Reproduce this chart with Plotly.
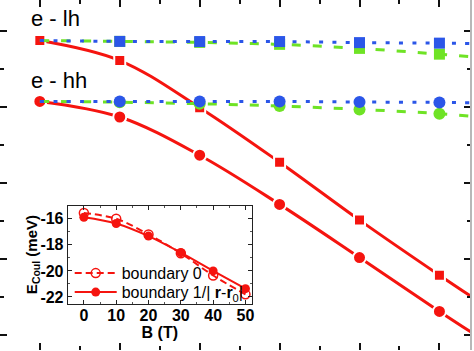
import plotly.graph_objects as go

# ---------------- data ----------------
B = [0, 10, 20, 30, 40, 50]                 # markers (T)
B_mk = [10, 20, 30, 40, 50]                 # blue/green markers
B_fit = [0, 10, 20, 30, 40, 50, 54]         # fitted curves (extend to edge)

red_lh = [-1.27, -3.90, -10.10, -17.28, -24.90, -32.15]
red_lh_fit = [-1.27, -3.90, -10.10, -17.28, -24.90, -32.15, -34.97]
red_hh = [-9.28, -11.33, -16.36, -22.83, -29.83, -36.92]
red_hh_fit = [-9.28, -11.33, -16.36, -22.83, -29.83, -36.92, -39.67]

blue_lh = [-1.38, -1.40, -1.40, -1.54, -1.61]
blue_lh_fit = [-1.27, -1.38, -1.40, -1.40, -1.54, -1.61, -1.67]
green_lh = [-1.38, -1.51, -1.77, -2.30, -3.06]
green_lh_fit = [-1.27, -1.38, -1.51, -1.77, -2.30, -3.06, -3.41]

blue_hh = [-9.28, -9.28, -9.28, -9.36, -9.41]
blue_hh_fit = [-9.28, -9.28, -9.28, -9.28, -9.36, -9.41, -9.45]
green_hh = [-9.38, -9.58, -9.88, -10.33, -10.89]
green_hh_fit = [-9.28, -9.38, -9.58, -9.88, -10.33, -10.89, -11.25]

# inset
B_in = [0, 10, 20, 30, 40, 50]
ecoul_b0 = [-15.55, -16.0, -17.2, -18.65, -20.35, -21.8]
ecoul_b1 = [-15.88, -16.36, -17.33, -18.6, -20.0, -21.36]
inset_yticks = [-16, -18, -20, -22]
inset_yticktext = ["-16", "-18", "-20", "-22"]
inset_xticks = [0, 10, 20, 30, 40, 50]

RED = "#f5140f"
BLUE = "#2b56e8"
GREEN = "#6fe325"
W, H = 474, 351

fig = go.Figure()

# fitted curves
fig.add_trace(go.Scatter(x=B_fit, y=red_lh_fit, mode="lines", line=dict(color=RED, width=3, shape="spline"), showlegend=False))
fig.add_trace(go.Scatter(x=B_fit, y=red_hh_fit, mode="lines", line=dict(color=RED, width=3, shape="spline"), showlegend=False))
fig.add_trace(go.Scatter(x=B, y=red_lh, mode="markers", marker=dict(symbol="square", size=11, color=RED, line=dict(color="white", width=2)), showlegend=False))
fig.add_trace(go.Scatter(x=B, y=red_hh, mode="markers", marker=dict(symbol="circle", size=13, color=RED, line=dict(color="white", width=2)), showlegend=False))

fig.add_trace(go.Scatter(x=B_fit, y=green_lh_fit, mode="lines", line=dict(color=GREEN, width=3, shape="spline", dash="9px,12px"), showlegend=False))
fig.add_trace(go.Scatter(x=B_fit, y=green_hh_fit, mode="lines", line=dict(color=GREEN, width=3, shape="spline", dash="9px,12px"), showlegend=False))
fig.add_trace(go.Scatter(x=B_mk, y=green_lh, mode="markers", marker=dict(symbol="square", size=11, color=GREEN), showlegend=False))
fig.add_trace(go.Scatter(x=B_mk, y=green_hh, mode="markers", marker=dict(symbol="circle", size=12, color=GREEN), showlegend=False))

fig.add_trace(go.Scatter(x=B_fit, y=blue_lh_fit, mode="lines", line=dict(color=BLUE, width=3, shape="spline", dash="4px,9.3px"), showlegend=False))
fig.add_trace(go.Scatter(x=B_fit, y=blue_hh_fit, mode="lines", line=dict(color=BLUE, width=3, shape="spline", dash="4px,9.3px"), showlegend=False))
fig.add_trace(go.Scatter(x=B_mk, y=blue_lh, mode="markers", marker=dict(symbol="square", size=11, color=BLUE), showlegend=False))
fig.add_trace(go.Scatter(x=B_mk, y=blue_hh, mode="markers", marker=dict(symbol="circle", size=12, color=BLUE), showlegend=False))

# inset traces
fig.add_trace(go.Scatter(x=B_in, y=ecoul_b0, mode="lines+markers", name="boundary 0",
                         xaxis="x2", yaxis="y2", legend="legend",
                         line=dict(color=RED, width=2, dash="7px,4px", shape="spline"),
                         marker=dict(symbol="circle-open", size=9, color=RED, line=dict(width=1.5))))
fig.add_trace(go.Scatter(x=B_in, y=ecoul_b1, mode="lines+markers",
                         name="boundary 1/| <b>r</b>-<b>r</b><sub>0</sub>|",
                         xaxis="x2", yaxis="y2", legend="legend2",
                         line=dict(color=RED, width=2, shape="spline"),
                         marker=dict(symbol="circle", size=9, color=RED)))

plot_w = W - 1
x_lo = -40 / 8.026
x_hi = x_lo + plot_w / 8.026
y_hi = 31 / 7.62
y_lo = y_hi - H / 7.62

legfont = dict(family="Liberation Sans", size=16, color="black")
tickfont_b = dict(family="Liberation Sans", size=16, color="black", weight="bold")

fig.update_layout(
    width=W, height=H,
    margin=dict(l=0, r=1, t=0, b=0, pad=0),
    paper_bgcolor="white", plot_bgcolor="white",
    font=dict(family="Liberation Sans", color="black"),
    xaxis=dict(range=[x_lo, x_hi], showgrid=False, zeroline=False, showline=False,
               ticks="inside", ticklen=7, tickwidth=1.5, tickcolor="#111",
               tick0=0, dtick=10, showticklabels=False, mirror="ticks",
               minor=dict(ticks="inside", ticklen=4, tickwidth=1.5, tickcolor="#111", dtick=5, tick0=0, showgrid=False)),
    yaxis=dict(range=[y_lo, y_hi], showgrid=False, zeroline=False, showline=False,
               ticks="inside", ticklen=7, tickwidth=1.5, tickcolor="#111",
               tick0=0, dtick=10, showticklabels=False, mirror="ticks",
               minor=dict(ticks="inside", ticklen=4, tickwidth=1.5, tickcolor="#111", dtick=5, tick0=0, showgrid=False)),
    xaxis2=dict(domain=[68 / plot_w, 253 / plot_w], anchor="y2", range=[-5, 52],
                showgrid=False, zeroline=False, showline=True, linecolor="#222", linewidth=1,
                mirror="allticks", ticks="inside", ticklen=4, tickcolor="#222",
                tickvals=inset_xticks, tickfont=tickfont_b, ticklabelstandoff=-3,
                minor=dict(ticks="inside", ticklen=2, dtick=5, tick0=0, tickcolor="#555"),
                title=dict(text="<b>B (T)</b>", font=dict(family="Liberation Sans", size=16), standoff=0)),
    yaxis2=dict(domain=[(H - 305) / H, (H - 207) / H], anchor="x2", range=[-22.55, -15.05],
                showgrid=False, zeroline=False, showline=True, linecolor="#222", linewidth=1,
                mirror="allticks", ticks="inside", ticklen=4, tickcolor="#222",
                tickvals=inset_yticks, ticktext=inset_yticktext, tickfont=tickfont_b,
                minor=dict(ticks="inside", ticklen=2, dtick=1, tick0=0, tickcolor="#555")),
    legend=dict(x=70 / plot_w, y=(H - 274) / H, xanchor="left", yanchor="middle",
                bgcolor="rgba(0,0,0,0)", font=legfont, itemwidth=42),
    legend2=dict(x=70 / plot_w, y=(H - 293) / H, xanchor="left", yanchor="middle",
                 bgcolor="rgba(0,0,0,0)", font=legfont, itemwidth=42),
    showlegend=True,
)

# white background behind inset
fig.add_shape(type="rect", xref="paper", yref="paper", x0=68 / plot_w, x1=253 / plot_w,
              y0=(H - 305) / H, y1=(H - 207) / H, fillcolor="white", line=dict(width=0), layer="below")
# right frame line
fig.add_shape(type="line", xref="paper", yref="paper", x0=1, x1=1, y0=0, y1=1,
              line=dict(color="#b8b8b8", width=2))

fig.add_annotation(text="e - lh", xref="x", yref="y", x=x_lo + 29 / 8.026, y=y_hi - 19 / 7.62,
                   xanchor="left", yanchor="middle", showarrow=False,
                   font=dict(family="Liberation Sans", size=22, color="black"))
fig.add_annotation(text="e - hh", xref="x", yref="y", x=x_lo + 29 / 8.026, y=y_hi - 81 / 7.62,
                   xanchor="left", yanchor="middle", showarrow=False,
                   font=dict(family="Liberation Sans", size=22, color="black"))
fig.add_annotation(text="<b>E<sub>Coul</sub> (meV)</b>", xref="paper", yref="paper",
                   x=32 / plot_w, y=(H - 255) / H, textangle=-90, showarrow=False,
                   xanchor="center", yanchor="middle",
                   font=dict(family="Liberation Sans", size=15, color="black"))

fig.write_html("out.html")
